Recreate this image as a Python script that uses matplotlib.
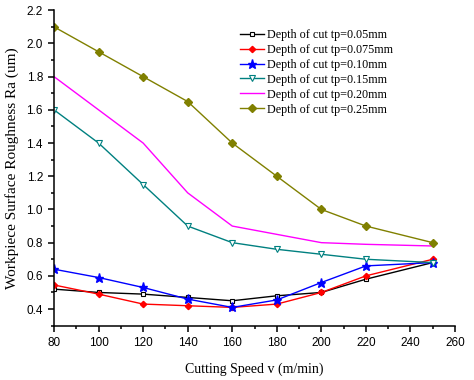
import numpy as np
import matplotlib
matplotlib.use("Agg")
import matplotlib.pyplot as plt
from matplotlib.ticker import MultipleLocator, FormatStrFormatter

speed = [80, 100, 120, 140, 160, 180, 200, 220, 250]

ra_005 = [0.52, 0.50, 0.49, 0.47, 0.45, 0.48, 0.50, 0.58, 0.68]
ra_0075 = [0.545, 0.49, 0.43, 0.42, 0.41, 0.43, 0.50, 0.60, 0.70]
ra_010 = [0.64, 0.59, 0.53, 0.46, 0.41, 0.455, 0.56, 0.66, 0.68]
ra_015 = [1.60, 1.40, 1.15, 0.90, 0.80, 0.76, 0.73, 0.70, 0.68]
ra_020 = [1.80, 1.60, 1.40, 1.10, 0.90, 0.85, 0.80, 0.79, 0.78]
ra_025 = [2.10, 1.95, 1.80, 1.65, 1.40, 1.20, 1.00, 0.90, 0.80]

labels = ["Depth of cut tp=0.05mm", "Depth of cut tp=0.075mm",
          "Depth of cut tp=0.10mm", "Depth of cut tp=0.15mm",
          "Depth of cut tp=0.20mm", "Depth of cut tp=0.25mm"]

fig = plt.figure(figsize=(4.74, 3.8), dpi=100)
ax = fig.add_axes([0.114, 0.143, 0.846, 0.830])

lw = 1.0
ax.plot(speed, ra_005, color="black", marker="s", ms=3.2, mfc="white", mec="black", mew=0.8, lw=lw, label=labels[0])
ax.plot(speed, ra_0075, color="red", marker="D", ms=3.2, lw=lw, label=labels[1])
ax.plot(speed, ra_010, color="#0000ff", marker="*", ms=6.5, lw=lw, label=labels[2])
ax.plot(speed, ra_015, color="#008080", marker="v", ms=4.5, mfc="white", mec="#008080", mew=0.8, lw=lw, label=labels[3])
ax.plot(speed, ra_020, color="#ff00ff", lw=lw, label=labels[4])
ax.plot(speed, ra_025, color="#808000", marker="D", ms=3.8, lw=lw, label=labels[5])

ax.set_xlim(80, 260)
ax.set_ylim(0.3, 2.2)
ax.xaxis.set_major_locator(MultipleLocator(20))
ax.xaxis.set_minor_locator(MultipleLocator(10))
ax.yaxis.set_major_locator(MultipleLocator(0.2))
ax.yaxis.set_minor_locator(MultipleLocator(0.1))
ax.yaxis.set_major_formatter(FormatStrFormatter("%.1f"))

ax.spines["top"].set_visible(False)
ax.spines["right"].set_visible(False)
ax.spines["left"].set_linewidth(1.1)
ax.spines["bottom"].set_linewidth(1.1)
ax.tick_params(which="major", direction="out", length=4.5, width=1.1, labelsize=8.5)
ax.tick_params(which="minor", direction="out", length=2.5, width=1.1)
for t in ax.get_xticklabels() + ax.get_yticklabels():
    t.set_family("Liberation Sans")

ax.set_xlabel("Cutting Speed v (m/min)", family="Liberation Serif", fontsize=10, labelpad=10)
ax.set_ylabel("Workpiece Surface Roughness Ra (um)", family="Liberation Serif", fontsize=11, labelpad=5)

ax.legend(loc="upper left", bbox_to_anchor=(240 / 474, 1 - 29 / 380), bbox_transform=fig.transFigure,
          frameon=False, prop={"family": "Liberation Serif", "size": 8.7},
          handlelength=2.0, handletextpad=0.25, labelspacing=0.24,
          borderpad=0, borderaxespad=0)

fig.savefig("out.png", dpi=100)
